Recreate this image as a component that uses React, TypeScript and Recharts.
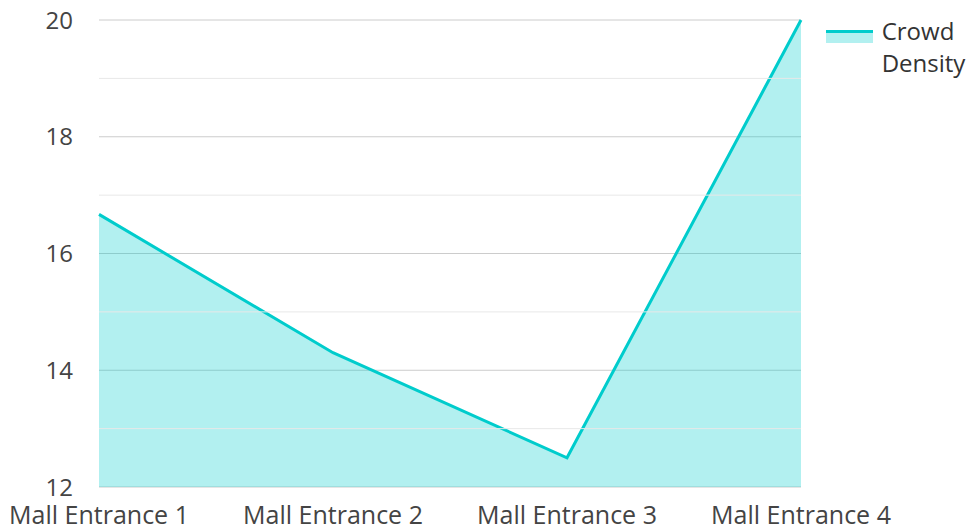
import { AreaChart, Area, XAxis, YAxis, CartesianGrid, ReferenceLine, Legend } from "recharts";

const categories = ["Mall Entrance 1", "Mall Entrance 2", "Mall Entrance 3", "Mall Entrance 4"];
const crowdDensity = [16.67, 14.3, 12.5, 20];
const majorTicks = [12, 14, 16, 18, 20];
const minorTicks = [13, 15, 17, 19];

const data = categories.map((name, i) => ({ name, density: crowdDensity[i] }));

const TEAL = "#00CCCC";
const FONT = "'Open Sans', sans-serif";

const LegendContent = () => (
  <div style={{ display: "flex", alignItems: "flex-start", paddingLeft: 25, fontFamily: FONT }}>
    <svg width={50} height={16} style={{ marginTop: 15 }}>
      <rect x={0} y={3} width={50} height={10} fill={TEAL} fillOpacity={0.3} />
      <line x1={0} y1={1.5} x2={50} y2={1.5} stroke={TEAL} strokeWidth={3} />
    </svg>
    <div style={{ marginLeft: 9, fontSize: 24, lineHeight: "32px", color: "#333", width: 100 }}>
      Crowd Density
    </div>
  </div>
);

export default function App() {
  return (
    <div style={{ position: "absolute", left: 0, top: 0 }}>
      <AreaChart width={975} height={526} data={data} margin={{ top: 20, right: 0, bottom: 0, left: 0 }}>
        <CartesianGrid vertical={false} stroke="#cccccc" />
        {minorTicks.map((v) => (
          <ReferenceLine key={v} y={v} stroke="#e8e8e8" />
        ))}
        <XAxis
          dataKey="name"
          tickLine={false}
          axisLine={false}
          tickSize={0}
          tickMargin={19}
          height={39}
          interval={0}
          fontSize={25}
          tick={{ fill: "#444", fontSize: 25, fontFamily: FONT }}
        />
        <YAxis
          domain={[12, 20]}
          ticks={majorTicks}
          tickLine={false}
          axisLine={false}
          tickSize={0}
          tickMargin={26}
          width={99}
          fontSize={24}
          tick={{ fill: "#444", fontSize: 24, fontFamily: FONT }}
        />
        <Legend
          layout="vertical"
          align="right"
          verticalAlign="top"
          content={<LegendContent />}
          wrapperStyle={{ width: 174, top: 15, right: 0 }}
        />
        <Area
          type="linear"
          dataKey="density"
          name="Crowd Density"
          stroke={TEAL}
          strokeWidth={3}
          fill={TEAL}
          fillOpacity={0.3}
          isAnimationActive={false}
          dot={false}
          activeDot={false}
        />
      </AreaChart>
    </div>
  );
}
